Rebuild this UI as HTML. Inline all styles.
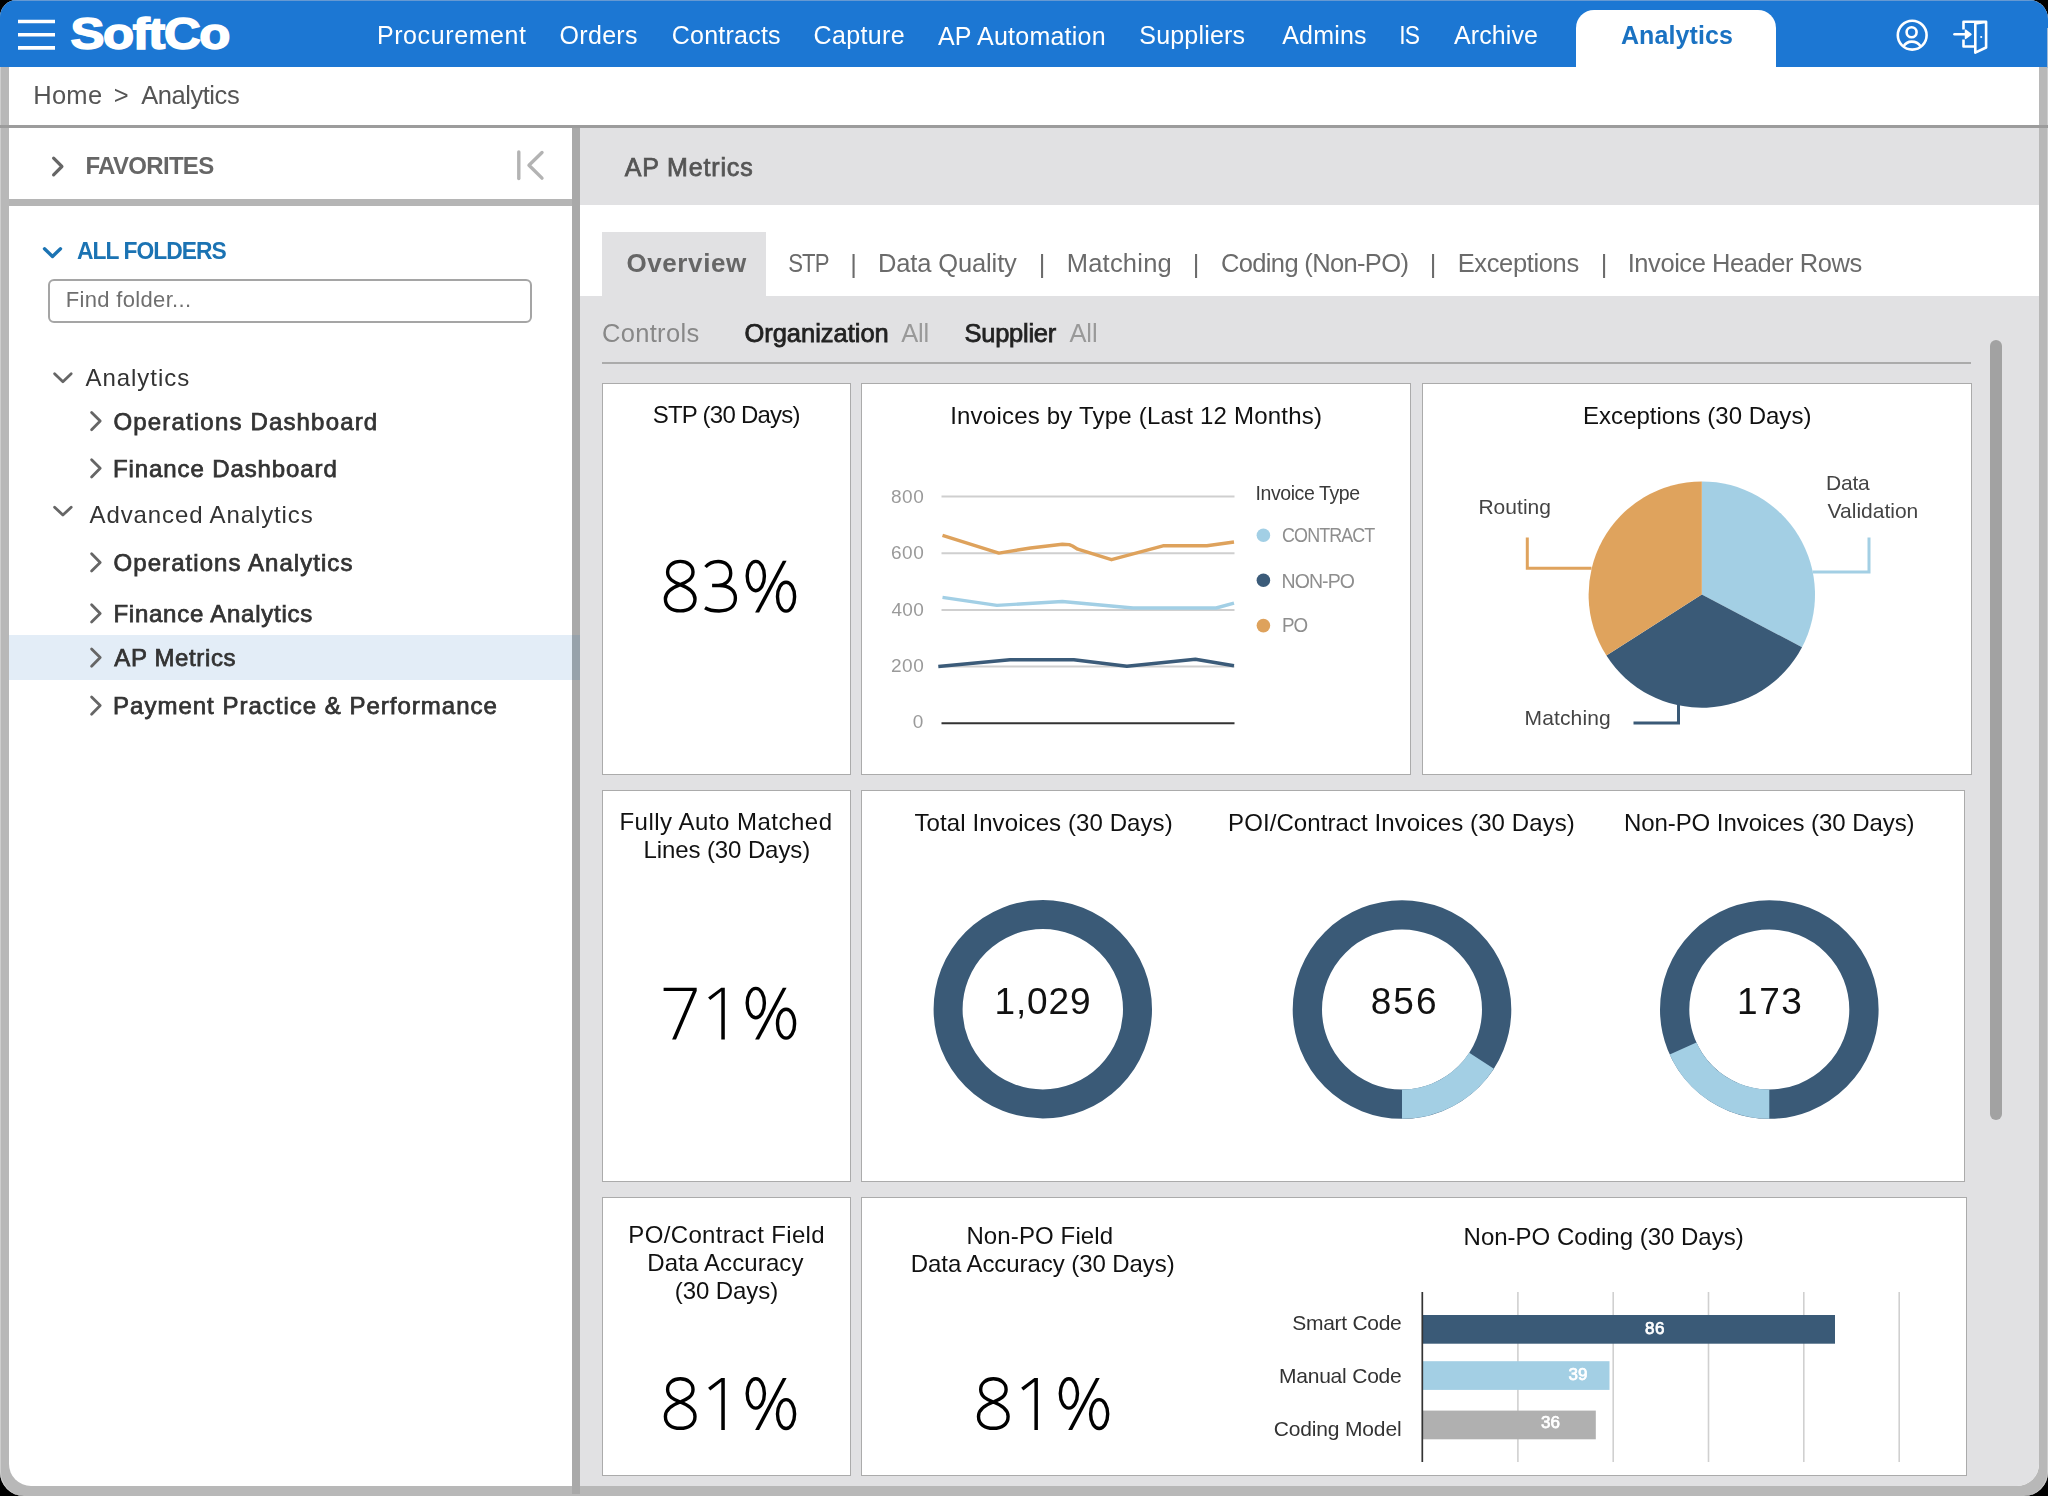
<!DOCTYPE html>
<html><head><meta charset="utf-8"><style>
html,body{margin:0;padding:0;}
body{width:2048px;height:1496px;background:#000;overflow:hidden;position:relative;font-family:"Liberation Sans",sans-serif;}
.a{position:absolute;}
.t{position:absolute;white-space:nowrap;line-height:0;height:0;}
</style></head><body>
<div class="a" style="left:0;top:0;width:2048px;height:1496px;border-radius:17px 19px 24px 24px;background:#b8b8b8;overflow:hidden;box-shadow:inset 1px 0 0 #cecece, inset -1px 0 0 #cecece;">
  <div class="a" style="left:0;top:0;width:2048px;height:67px;background:#1c77d3;border-bottom-right-radius:0;"></div>
  <div class="a" style="left:0;top:0;width:2048px;height:1px;background:#6699d2;"></div>
  <div class="a" style="left:2047px;top:28px;width:1px;height:40px;background:#9fb9d6;"></div>
  <!-- analytics tab -->
  <div class="a" style="left:1576px;top:9.5px;width:200px;height:58px;background:#fff;border-radius:18px 18px 0 0;"></div>
  <!-- inner white -->
  <div class="a" style="left:9px;top:67px;width:2030px;height:1419px;background:#fff;border-radius:0 0 22px 22px;overflow:hidden;">
    <!-- favorites sep -->
    <div class="a" style="left:0;top:132px;width:563px;height:7px;background:#b5b5b5;"></div>
    <!-- selected row -->
    <div class="a" style="left:0;top:567.5px;width:563px;height:45px;background:#e3edf7;"></div>
    <!-- main area -->
    <div class="a" style="left:571px;top:61px;width:1459px;height:1358px;background:#e1e1e3;"></div>
    <div class="a" style="left:571px;top:138px;width:1459px;height:91px;background:#fff;"></div>
    <div class="a" style="left:593px;top:165px;width:164px;height:64px;background:#e1e1e3;"></div>
    <!-- controls line -->
    <div class="a" style="left:593px;top:295.2px;width:1369px;height:1.6px;background:#ababab;"></div>
    <!-- cards -->
    <div class="a card" style="left:593px;top:316px;width:249px;height:392px;"></div>
    <div class="a card" style="left:852px;top:316px;width:550px;height:392px;"></div>
    <div class="a card" style="left:1413px;top:316px;width:550px;height:392px;"></div>
    <div class="a card" style="left:593px;top:723px;width:249px;height:392px;"></div>
    <div class="a card" style="left:852px;top:723px;width:1104px;height:392px;"></div>
    <div class="a card" style="left:593px;top:1130px;width:249px;height:279px;"></div>
    <div class="a card" style="left:852px;top:1130px;width:1106px;height:279px;"></div>
    <!-- scrollbar -->
    <div class="a" style="left:1981px;top:273px;width:12px;height:780px;border-radius:6px;background:#a2a2a2;"></div>
  </div>
  <div class="a" style="left:0;top:125px;width:2048px;height:3px;background:#9c9c9c;"></div>
  <!-- sidebar divider -->
  <div class="a" style="left:572px;top:128px;width:8px;height:1366px;background:#a9a9a9;"></div>
  <div class="a" style="left:572px;top:634.5px;width:8px;height:45px;background:#97a2ab;"></div>
</div>
<style>.card{background:#fff;border:1.5px solid #ababab;box-sizing:border-box;}</style>
<div class="a" style="left:47.5px;top:279px;width:484px;height:44px;border:2px solid #a5a5a5;border-radius:6px;box-sizing:border-box;"></div>
<svg class="a" style="left:0;top:0" width="2048" height="1496" viewBox="0 0 2048 1496">
<line x1="941.5" y1="496.5" x2="1234.5" y2="496.5" stroke="#cfcfcf" stroke-width="2"/>
<line x1="941.5" y1="553.2" x2="1234.5" y2="553.2" stroke="#cfcfcf" stroke-width="2"/>
<line x1="941.5" y1="610.0" x2="1234.5" y2="610.0" stroke="#cfcfcf" stroke-width="2"/>
<line x1="941.5" y1="666.6" x2="1234.5" y2="666.6" stroke="#cfcfcf" stroke-width="2"/>
<line x1="941.5" y1="723.2" x2="1234.5" y2="723.2" stroke="#333" stroke-width="2"/>
<polyline fill="none" stroke="#a2cfe5" stroke-width="3.4" stroke-linejoin="round" points="942.5,597.4 996.9,605.4 1062.3,601.5 1133.0,608.0 1216.1,608.0 1234.0,603.1"/>
<polyline fill="none" stroke="#3b5b79" stroke-width="3.4" stroke-linejoin="round" points="938.3,666.5 1010.0,659.7 1073.8,659.7 1126.9,666.2 1195.4,659.2 1234.0,665.8"/>
<polyline fill="none" stroke="#dea25c" stroke-width="3.4" stroke-linejoin="round" points="942.5,535.4 998.9,553.1 1030.5,548.0 1062.3,544.3 1069.2,544.6 1072.5,546.0 1077.7,549.2 1111.5,559.7 1163.0,545.8 1206.9,545.8 1234.0,542.0"/>
<circle cx="1263.4" cy="535.3" r="6.8" fill="#a2cfe5"/>
<circle cx="1263.4" cy="580.2" r="6.8" fill="#3b5b79"/>
<circle cx="1263.4" cy="625.6" r="6.8" fill="#dea25c"/>
<path d="M1701.8,594.6 L1701.80,481.40 A113.2,113.2 0 0 1 1802.03,647.22 Z" fill="#a3cfe4"/>
<path d="M1701.8,594.6 L1802.03,647.22 A113.2,113.2 0 0 1 1606.43,655.59 Z" fill="#3a5a77"/>
<path d="M1701.8,594.6 L1606.43,655.59 A113.2,113.2 0 0 1 1701.80,481.40 Z" fill="#dfa35d"/>
<polyline fill="none" stroke="#dfa35d" stroke-width="3" points="1591.5,568.3 1527.3,568.3 1527.3,537.5"/>
<polyline fill="none" stroke="#a3cfe4" stroke-width="3" points="1812.5,572 1869,572 1869,537.5"/>
<polyline fill="none" stroke="#3a5a77" stroke-width="3" points="1678.5,705 1678.5,723 1633.5,723"/>
<circle cx="1042.8" cy="1009.2" r="94.7" fill="none" stroke="#3a5a77" stroke-width="29.0"/>
<circle cx="1402.0" cy="1009.5" r="94.65" fill="none" stroke="#3a5a77" stroke-width="29.299999999999997"/>
<path d="M1481.56,1060.77 A94.65,94.65 0 0 1 1402.00,1104.15" fill="none" stroke="#a3cfe4" stroke-width="29.299999999999997"/>
<circle cx="1769.3" cy="1009.5" r="94.65" fill="none" stroke="#3a5a77" stroke-width="29.299999999999997"/>
<path d="M1769.30,1104.15 A94.65,94.65 0 0 1 1683.04,1048.45" fill="none" stroke="#a3cfe4" stroke-width="29.299999999999997"/>
<line x1="1517.9" y1="1292" x2="1517.9" y2="1462" stroke="#d0d0d0" stroke-width="1.6"/>
<line x1="1613.2" y1="1292" x2="1613.2" y2="1462" stroke="#d0d0d0" stroke-width="1.6"/>
<line x1="1708.5" y1="1292" x2="1708.5" y2="1462" stroke="#d0d0d0" stroke-width="1.6"/>
<line x1="1803.8" y1="1292" x2="1803.8" y2="1462" stroke="#d0d0d0" stroke-width="1.6"/>
<line x1="1899.2" y1="1292" x2="1899.2" y2="1462" stroke="#d0d0d0" stroke-width="1.6"/>
<rect x="1423" y="1315" width="412" height="28.7" fill="#3a5a77"/>
<rect x="1423" y="1361.2" width="186.5" height="28.7" fill="#a3cfe4"/>
<rect x="1423" y="1410.6" width="172.8" height="28.7" fill="#b0b0b0"/>
<line x1="1422.3" y1="1292" x2="1422.3" y2="1462" stroke="#333" stroke-width="1.7"/>
<path transform="translate(663.70,612.60)" d="M16.6,-51.2 C9.5,-51.2 3.9,-47.0 3.9,-40.5 C3.9,-33.5 10.0,-30.5 16.5,-28.0 C24.0,-25.2 31.3,-21.5 31.3,-13.6 C31.3,-5.8 25.0,-1.7 16.5,-1.7 C8.0,-1.7 1.7,-5.8 1.7,-13.6 C1.7,-21.5 9.0,-25.2 16.5,-28.0 C23.0,-30.5 29.3,-33.5 29.3,-40.5 C29.3,-47.0 23.7,-51.2 16.6,-51.2 Z" fill="none" stroke="#000" stroke-width="3.4"/>
<path transform="translate(703.70,612.60)" d="M1.8,-45.6 C5.0,-49.3 9.5,-51.05 14.5,-51.05 C22,-51.05 27,-46.5 27,-39.3 C27,-31.5 21,-27.1 14.5,-27.1 M8.4,-27.1 L16,-27.1 C25,-27.1 31.7,-22.5 31.7,-14.6 C31.7,-6 25,-1.65 15.4,-1.65 C9.5,-1.65 4.5,-2.9 1.3,-4.9" fill="none" stroke="#000" stroke-width="3.4"/>
<ellipse cx="755.80" cy="576.05" rx="8.6" ry="14.65" fill="none" stroke="#000" stroke-width="3.4"/>
<ellipse cx="786.05" cy="596.65" rx="8.55" ry="14.45" fill="none" stroke="#000" stroke-width="3.4"/>
<polygon transform="translate(745.50,612.60)" points="37.3,-51.9 41.1,-51.9 13.6,0 9.6,0" fill="#000"/>
<polygon transform="translate(663.60,1039.60)" points="0,-51.9 33.1,-51.9 33.1,-48.7 12.4,0 8.5,0 29.3,-48.6 0,-48.6" fill="#000"/>
<polygon transform="translate(708.10,1039.60)" points="0,-42.2 13.2,-51.9 16.7,-51.9 16.7,0 13.2,0 13.2,-48.3 2.2,-39.6" fill="#000"/>
<ellipse cx="755.80" cy="1003.05" rx="8.6" ry="14.65" fill="none" stroke="#000" stroke-width="3.4"/>
<ellipse cx="786.05" cy="1023.65" rx="8.55" ry="14.45" fill="none" stroke="#000" stroke-width="3.4"/>
<polygon transform="translate(745.50,1039.60)" points="37.3,-51.9 41.1,-51.9 13.6,0 9.6,0" fill="#000"/>
<path transform="translate(663.70,1430.00)" d="M16.6,-51.2 C9.5,-51.2 3.9,-47.0 3.9,-40.5 C3.9,-33.5 10.0,-30.5 16.5,-28.0 C24.0,-25.2 31.3,-21.5 31.3,-13.6 C31.3,-5.8 25.0,-1.7 16.5,-1.7 C8.0,-1.7 1.7,-5.8 1.7,-13.6 C1.7,-21.5 9.0,-25.2 16.5,-28.0 C23.0,-30.5 29.3,-33.5 29.3,-40.5 C29.3,-47.0 23.7,-51.2 16.6,-51.2 Z" fill="none" stroke="#000" stroke-width="3.4"/>
<polygon transform="translate(708.10,1430.00)" points="0,-42.2 13.2,-51.9 16.7,-51.9 16.7,0 13.2,0 13.2,-48.3 2.2,-39.6" fill="#000"/>
<ellipse cx="755.80" cy="1393.45" rx="8.6" ry="14.65" fill="none" stroke="#000" stroke-width="3.4"/>
<ellipse cx="786.05" cy="1414.05" rx="8.55" ry="14.45" fill="none" stroke="#000" stroke-width="3.4"/>
<polygon transform="translate(745.50,1430.00)" points="37.3,-51.9 41.1,-51.9 13.6,0 9.6,0" fill="#000"/>
<path transform="translate(976.80,1430.00)" d="M16.6,-51.2 C9.5,-51.2 3.9,-47.0 3.9,-40.5 C3.9,-33.5 10.0,-30.5 16.5,-28.0 C24.0,-25.2 31.3,-21.5 31.3,-13.6 C31.3,-5.8 25.0,-1.7 16.5,-1.7 C8.0,-1.7 1.7,-5.8 1.7,-13.6 C1.7,-21.5 9.0,-25.2 16.5,-28.0 C23.0,-30.5 29.3,-33.5 29.3,-40.5 C29.3,-47.0 23.7,-51.2 16.6,-51.2 Z" fill="none" stroke="#000" stroke-width="3.4"/>
<polygon transform="translate(1021.20,1430.00)" points="0,-42.2 13.2,-51.9 16.7,-51.9 16.7,0 13.2,0 13.2,-48.3 2.2,-39.6" fill="#000"/>
<ellipse cx="1068.90" cy="1393.45" rx="8.6" ry="14.65" fill="none" stroke="#000" stroke-width="3.4"/>
<ellipse cx="1099.15" cy="1414.05" rx="8.55" ry="14.45" fill="none" stroke="#000" stroke-width="3.4"/>
<polygon transform="translate(1058.60,1430.00)" points="37.3,-51.9 41.1,-51.9 13.6,0 9.6,0" fill="#000"/>
<line x1="18" y1="21.5" x2="55" y2="21.5" stroke="#fff" stroke-width="3.6"/>
<line x1="18" y1="34.7" x2="55" y2="34.7" stroke="#fff" stroke-width="3.6"/>
<line x1="18" y1="47.9" x2="55" y2="47.9" stroke="#fff" stroke-width="3.6"/>
<circle cx="1912.2" cy="35.2" r="14.4" fill="none" stroke="#fff" stroke-width="2.6"/>
<circle cx="1911.6" cy="32.2" r="5.0" fill="none" stroke="#fff" stroke-width="2.6"/>
<path d="M1903.3,46.8 C1905.3,43.2 1908.2,41.6 1911.8,41.6 C1915.4,41.6 1918.5,43.2 1920.6,46.3" fill="none" stroke="#fff" stroke-width="2.6"/>
<path d="M1963.5,29.5 V21.7 H1986.1 V47.5 L1975.3,52.6 V23.5 L1985.4,21.9" fill="none" stroke="#fff" stroke-width="2.6" stroke-linejoin="round"/>
<path d="M1963.5,39.5 V46.5 H1974.5" fill="none" stroke="#fff" stroke-width="2.6" stroke-linejoin="round"/>
<line x1="1954.5" y1="34.3" x2="1969" y2="34.3" stroke="#fff" stroke-width="2.6" stroke-linecap="round"/>
<path d="M1965.5,30.2 L1971,34.3 L1965.5,38.4 Z" fill="#fff" stroke="#fff" stroke-width="1.5" stroke-linejoin="round"/>
<circle cx="1981.2" cy="37" r="1.1" fill="#fff"/>
<polyline fill="none" stroke="#666" stroke-width="3.2" stroke-linecap="round" stroke-linejoin="round" points="53.6,158.2 61.90000000000001,166.5 53.6,174.8"/>
<polyline fill="none" stroke="#1b73b3" stroke-width="3.4" stroke-linecap="round" stroke-linejoin="round" points="44.5,248.8 52.5,256.40000000000003 60.5,248.8"/>
<polyline fill="none" stroke="#666" stroke-width="2.8" stroke-linecap="round" stroke-linejoin="round" points="54.6,373.8 62.900000000000006,381.685 71.2,373.8"/>
<polyline fill="none" stroke="#666" stroke-width="2.8" stroke-linecap="round" stroke-linejoin="round" points="54.6,507.2 62.900000000000006,515.085 71.2,507.2"/>
<polyline fill="none" stroke="#666" stroke-width="2.8" stroke-linecap="round" stroke-linejoin="round" points="91.6,412.5 100.20000000000002,421.1 91.6,429.70000000000005"/>
<polyline fill="none" stroke="#666" stroke-width="2.8" stroke-linecap="round" stroke-linejoin="round" points="91.6,459.7 100.20000000000002,468.3 91.6,476.90000000000003"/>
<polyline fill="none" stroke="#666" stroke-width="2.8" stroke-linecap="round" stroke-linejoin="round" points="91.6,553.8 100.20000000000002,562.4 91.6,571.0"/>
<polyline fill="none" stroke="#666" stroke-width="2.8" stroke-linecap="round" stroke-linejoin="round" points="91.6,604.8 100.20000000000002,613.4 91.6,622.0"/>
<polyline fill="none" stroke="#666" stroke-width="2.8" stroke-linecap="round" stroke-linejoin="round" points="91.6,649.0 100.20000000000002,657.6 91.6,666.2"/>
<polyline fill="none" stroke="#666" stroke-width="2.8" stroke-linecap="round" stroke-linejoin="round" points="91.6,697.0 100.20000000000002,705.6 91.6,714.2"/>
<line x1="518.8" y1="152" x2="518.8" y2="178.6" stroke="#b3b3b3" stroke-width="3.4" stroke-linecap="round"/>
<polyline fill="none" stroke="#b3b3b3" stroke-width="3.4" stroke-linecap="round" stroke-linejoin="round" points="542,152.5 529,165.3 542,178.1"/>
<text x="70.5" y="49.3" font-family="Liberation Sans" font-weight="700" font-size="44" fill="#fff" stroke="#fff" stroke-width="1.6" letter-spacing="-1.2" textLength="158.5" lengthAdjust="spacingAndGlyphs">SoftCo</text>
</svg>
<div class="a" style="left:0;top:0;width:2048px;height:1496px;will-change:transform;">
<div class="t" style="left:376.90px;top:34.84px;font-size:25px;letter-spacing:0.603px;color:#ffffff;">Procurement</div>
<div class="t" style="left:559.60px;top:34.84px;font-size:25px;letter-spacing:0.299px;color:#ffffff;">Orders</div>
<div class="t" style="left:671.70px;top:34.64px;font-size:25px;letter-spacing:0.240px;color:#ffffff;">Contracts</div>
<div class="t" style="left:813.60px;top:34.64px;font-size:25px;letter-spacing:0.361px;color:#ffffff;">Capture</div>
<div class="t" style="left:937.90px;top:36.44px;font-size:25px;letter-spacing:0.229px;color:#ffffff;">AP Automation</div>
<div class="t" style="left:1139.30px;top:34.64px;font-size:25px;letter-spacing:0.197px;color:#ffffff;">Suppliers</div>
<div class="t" style="left:1282.20px;top:34.64px;font-size:25px;letter-spacing:0.188px;color:#ffffff;">Admins</div>
<div class="t" style="left:1398.90px;top:34.64px;font-size:25px;letter-spacing:-1.000px;color:#ffffff;transform:scaleX(0.9145);transform-origin:2.30px 0;">IS</div>
<div class="t" style="left:1454.00px;top:34.64px;font-size:25px;letter-spacing:0.090px;color:#ffffff;">Archive</div>
<div class="t" style="left:1620.90px;top:34.94px;font-size:25px;letter-spacing:0.118px;color:#1a72c2;font-weight:700;">Analytics</div>
<div class="t" style="left:33.20px;top:95.16px;font-size:25.5px;letter-spacing:0.287px;color:#555;">Home</div>
<div class="t" style="left:113.70px;top:95.16px;font-size:25.5px;letter-spacing:0.000px;color:#555;">&gt;</div>
<div class="t" style="left:141.20px;top:95.16px;font-size:25.5px;letter-spacing:-0.448px;color:#555;">Analytics</div>
<div class="t" style="left:85.40px;top:165.98px;font-size:24px;letter-spacing:-0.679px;color:#666;font-weight:700;">FAVORITES</div>
<div class="t" style="left:76.81px;top:250.86px;font-size:23.5px;letter-spacing:-1.000px;color:#1b73b3;transform:scaleX(0.9712);transform-origin:0.50px 0;font-weight:700;">ALL FOLDERS</div>
<div class="t" style="left:65.80px;top:299.98px;font-size:22px;letter-spacing:0.327px;color:#6f6f6f;">Find folder...</div>
<div class="t" style="left:85.40px;top:377.88px;font-size:24px;letter-spacing:0.983px;color:#333;">Analytics</div>
<div class="t" style="left:113.48px;top:421.68px;font-size:24px;letter-spacing:1.170px;color:#333;-webkit-text-stroke:0.75px #333;">Operations Dashboard</div>
<div class="t" style="left:112.97px;top:468.68px;font-size:24px;letter-spacing:0.902px;color:#333;-webkit-text-stroke:0.75px #333;">Finance Dashboard</div>
<div class="t" style="left:89.60px;top:514.78px;font-size:24px;letter-spacing:0.879px;color:#333;">Advanced Analytics</div>
<div class="t" style="left:113.58px;top:562.68px;font-size:24px;letter-spacing:1.055px;color:#333;-webkit-text-stroke:0.75px #333;">Operations Analytics</div>
<div class="t" style="left:113.38px;top:613.58px;font-size:24px;letter-spacing:0.760px;color:#333;-webkit-text-stroke:0.75px #333;">Finance Analytics</div>
<div class="t" style="left:114.28px;top:658.38px;font-size:24px;letter-spacing:0.637px;color:#333;-webkit-text-stroke:0.75px #333;">AP Metrics</div>
<div class="t" style="left:113.07px;top:705.88px;font-size:24px;letter-spacing:1.000px;color:#333;-webkit-text-stroke:0.75px #333;">Payment Practice &amp; Performance</div>
<div class="t" style="left:624.77px;top:166.84px;font-size:25px;letter-spacing:0.833px;color:#555;-webkit-text-stroke:0.75px #555;">AP Metrics</div>
<div class="t" style="left:626.39px;top:262.79px;font-size:26px;letter-spacing:0.614px;color:#666;font-weight:700;">Overview</div>
<div class="t" style="left:787.54px;top:262.66px;font-size:25.5px;letter-spacing:-1.000px;color:#6b6b6b;transform:scaleX(0.8698);transform-origin:1.10px 0;">STP</div>
<div class="t" style="left:850.30px;top:264.16px;font-size:25.5px;letter-spacing:0.000px;color:#6b6b6b;">|</div>
<div class="t" style="left:878.00px;top:262.66px;font-size:25.5px;letter-spacing:-0.133px;color:#6b6b6b;">Data Quality</div>
<div class="t" style="left:1038.80px;top:264.16px;font-size:25.5px;letter-spacing:0.000px;color:#6b6b6b;">|</div>
<div class="t" style="left:1066.70px;top:262.66px;font-size:25.5px;letter-spacing:0.230px;color:#6b6b6b;">Matching</div>
<div class="t" style="left:1192.80px;top:264.16px;font-size:25.5px;letter-spacing:0.000px;color:#6b6b6b;">|</div>
<div class="t" style="left:1221.00px;top:262.66px;font-size:25.5px;letter-spacing:-0.650px;color:#6b6b6b;">Coding (Non-PO)</div>
<div class="t" style="left:1429.80px;top:264.16px;font-size:25.5px;letter-spacing:0.000px;color:#6b6b6b;">|</div>
<div class="t" style="left:1457.70px;top:262.66px;font-size:25.5px;letter-spacing:-0.365px;color:#6b6b6b;">Exceptions</div>
<div class="t" style="left:1600.80px;top:264.16px;font-size:25.5px;letter-spacing:0.000px;color:#6b6b6b;">|</div>
<div class="t" style="left:1627.70px;top:262.66px;font-size:25.5px;letter-spacing:-0.440px;color:#6b6b6b;">Invoice Header Rows</div>
<div class="t" style="left:602.00px;top:333.06px;font-size:25.5px;letter-spacing:0.314px;color:#888;">Controls</div>
<div class="t" style="left:744.38px;top:333.06px;font-size:25.5px;letter-spacing:-0.014px;color:#222;-webkit-text-stroke:0.75px #222;">Organization</div>
<div class="t" style="left:901.30px;top:333.06px;font-size:25.5px;letter-spacing:-0.287px;color:#999;">All</div>
<div class="t" style="left:964.57px;top:333.06px;font-size:25.5px;letter-spacing:-0.274px;color:#222;-webkit-text-stroke:0.75px #222;">Supplier</div>
<div class="t" style="left:1069.40px;top:333.06px;font-size:25.5px;letter-spacing:-0.037px;color:#999;">All</div>
<div class="t" style="left:652.70px;top:415.48px;font-size:24px;letter-spacing:-0.757px;color:#111;">STP (30 Days)</div>
<div class="t" style="left:950.20px;top:415.78px;font-size:24px;letter-spacing:0.209px;color:#111;">Invoices by Type (Last 12 Months)</div>
<div class="t" style="left:1583.10px;top:415.68px;font-size:24px;letter-spacing:0.010px;color:#111;">Exceptions (30 Days)</div>
<div class="t" style="left:619.40px;top:822.28px;font-size:24px;letter-spacing:0.501px;color:#111;">Fully Auto Matched</div>
<div class="t" style="left:643.40px;top:849.68px;font-size:24px;letter-spacing:-0.091px;color:#111;">Lines (30 Days)</div>
<div class="t" style="left:914.50px;top:822.68px;font-size:24px;letter-spacing:0.091px;color:#111;">Total Invoices (30 Days)</div>
<div class="t" style="left:1228.10px;top:822.68px;font-size:24px;letter-spacing:0.086px;color:#111;">POI/Contract Invoices (30 Days)</div>
<div class="t" style="left:1623.90px;top:822.68px;font-size:24px;letter-spacing:-0.059px;color:#111;">Non-PO Invoices (30 Days)</div>
<div class="t" style="left:628.30px;top:1234.68px;font-size:24px;letter-spacing:0.351px;color:#111;">PO/Contract Field</div>
<div class="t" style="left:647.30px;top:1262.68px;font-size:24px;letter-spacing:0.120px;color:#111;">Data Accuracy</div>
<div class="t" style="left:674.80px;top:1290.68px;font-size:24px;letter-spacing:-0.079px;color:#111;">(30 Days)</div>
<div class="t" style="left:966.40px;top:1236.28px;font-size:24px;letter-spacing:0.124px;color:#111;">Non-PO Field</div>
<div class="t" style="left:910.80px;top:1264.18px;font-size:24px;letter-spacing:-0.071px;color:#111;">Data Accuracy (30 Days)</div>
<div class="t" style="left:1463.60px;top:1236.68px;font-size:24px;letter-spacing:-0.001px;color:#111;">Non-PO Coding (30 Days)</div>
<div class="t" style="left:994.59px;top:1002.18px;font-size:37px;letter-spacing:0.830px;color:#111;">1,029</div>
<div class="t" style="left:1370.84px;top:1001.68px;font-size:37px;letter-spacing:1.961px;color:#111;">856</div>
<div class="t" style="left:1736.99px;top:1001.68px;font-size:37px;letter-spacing:1.590px;color:#111;">173</div>
<div class="t" style="left:891.00px;top:496.92px;font-size:19px;letter-spacing:0.533px;color:#9a9a9a;">800</div>
<div class="t" style="left:890.90px;top:553.42px;font-size:19px;letter-spacing:0.583px;color:#9a9a9a;">600</div>
<div class="t" style="left:891.40px;top:609.92px;font-size:19px;letter-spacing:0.333px;color:#9a9a9a;">400</div>
<div class="t" style="left:890.90px;top:666.12px;font-size:19px;letter-spacing:0.583px;color:#9a9a9a;">200</div>
<div class="t" style="left:912.70px;top:722.32px;font-size:19px;letter-spacing:0.000px;color:#9a9a9a;">0</div>
<div class="t" style="left:1255.50px;top:493.04px;font-size:19.5px;letter-spacing:-0.421px;color:#3a3a3a;">Invoice Type</div>
<div class="t" style="left:1282.27px;top:535.04px;font-size:19.5px;letter-spacing:-1.000px;color:#8e8e8e;transform:scaleX(0.9199);transform-origin:0.90px 0;">CONTRACT</div>
<div class="t" style="left:1281.50px;top:580.54px;font-size:19.5px;letter-spacing:-0.906px;color:#8e8e8e;">NON-PO</div>
<div class="t" style="left:1281.56px;top:625.04px;font-size:19.5px;letter-spacing:-1.000px;color:#8e8e8e;transform:scaleX(0.9633);transform-origin:1.60px 0;">PO</div>
<div class="t" style="left:1478.40px;top:506.52px;font-size:21px;letter-spacing:0.033px;color:#444;">Routing</div>
<div class="t" style="left:1825.90px;top:482.52px;font-size:21px;letter-spacing:-0.160px;color:#444;">Data</div>
<div class="t" style="left:1827.60px;top:511.02px;font-size:21px;letter-spacing:0.000px;color:#444;">Validation</div>
<div class="t" style="left:1524.50px;top:718.32px;font-size:21px;letter-spacing:0.153px;color:#444;">Matching</div>
<div class="t" style="left:1292.20px;top:1323.32px;font-size:21px;letter-spacing:-0.274px;color:#333;">Smart Code</div>
<div class="t" style="left:1278.90px;top:1376.22px;font-size:21px;letter-spacing:-0.203px;color:#333;">Manual Code</div>
<div class="t" style="left:1273.80px;top:1429.32px;font-size:21px;letter-spacing:-0.165px;color:#333;">Coding Model</div>
<div class="t" style="left:1645.08px;top:1329.41px;font-size:17px;letter-spacing:0.395px;color:#fff;-webkit-text-stroke:0.75px #fff;">86</div>
<div class="t" style="left:1568.48px;top:1375.41px;font-size:17px;letter-spacing:0.195px;color:#fff;-webkit-text-stroke:0.75px #fff;">39</div>
<div class="t" style="left:1540.98px;top:1423.21px;font-size:17px;letter-spacing:0.095px;color:#fff;-webkit-text-stroke:0.75px #fff;">36</div>
</div>
</body></html>
